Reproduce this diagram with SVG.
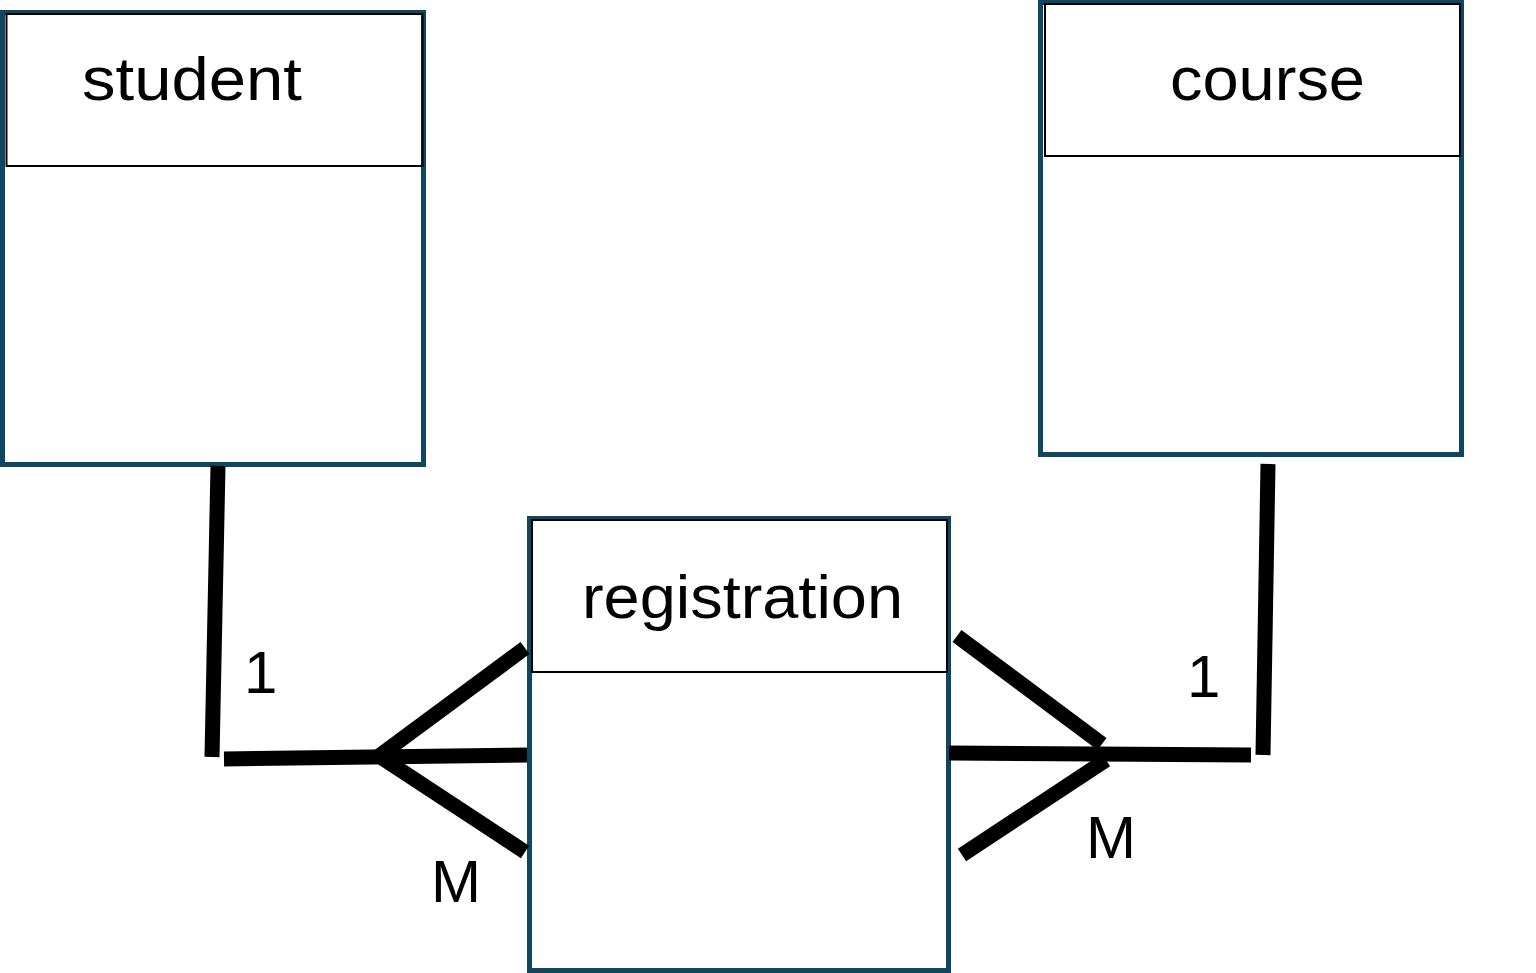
<svg xmlns="http://www.w3.org/2000/svg" width="1536" height="973" viewBox="0 0 1536 973">
<style>
.outer{fill:#ffffff;stroke:#0F4761;stroke-width:5}
.head{fill:none;stroke:#000000;stroke-width:2}
.title{font-family:"Liberation Sans",Arial,sans-serif;font-size:62px;fill:#000000}
.lbl{font-family:"Liberation Sans",Arial,sans-serif;font-size:60px;fill:#000000}
.conn{stroke:#000000;stroke-width:15;stroke-linecap:butt;fill:none}
</style>
<rect x="0" y="0" width="1536" height="973" fill="#ffffff"/>
<g id="student">
<rect class="outer" x="2.5" y="12.5" width="421" height="452"/>
<rect class="head" x="6.5" y="14" width="416" height="152"/>
<text class="title" x="82" y="100" textLength="220" lengthAdjust="spacingAndGlyphs">student</text>
</g>
<g id="course">
<rect class="outer" x="1040.5" y="2.5" width="421" height="452"/>
<rect class="head" x="1045" y="4" width="415" height="152"/>
<text class="title" x="1170" y="100" textLength="195" lengthAdjust="spacingAndGlyphs">course</text>
</g>
<g id="registration">
<rect class="outer" x="529.5" y="518.5" width="419" height="452"/>
<rect class="head" x="532" y="520" width="415" height="152"/>
<text class="title" x="582" y="618" textLength="321" lengthAdjust="spacingAndGlyphs">registration</text>
</g>
<g id="connectors">
<line class="conn" x1="218" y1="466" x2="212" y2="757"/>
<line class="conn" x1="224" y1="759" x2="527" y2="755"/>
<line class="conn" x1="379" y1="756" x2="525" y2="648"/>
<line class="conn" x1="379" y1="756" x2="525" y2="852"/>
<line class="conn" x1="1268" y1="464" x2="1263" y2="755"/>
<line class="conn" x1="949" y1="753" x2="1251" y2="755"/>
<line class="conn" x1="957" y1="636" x2="1102" y2="744"/>
<line class="conn" x1="1106" y1="760" x2="962" y2="855"/>
</g>
<g id="labels">
<text class="lbl" x="244" y="693">1</text>
<text class="lbl" x="431" y="902">M</text>
<text class="lbl" x="1187" y="697">1</text>
<text class="lbl" x="1086" y="858">M</text>
</g>
</svg>
